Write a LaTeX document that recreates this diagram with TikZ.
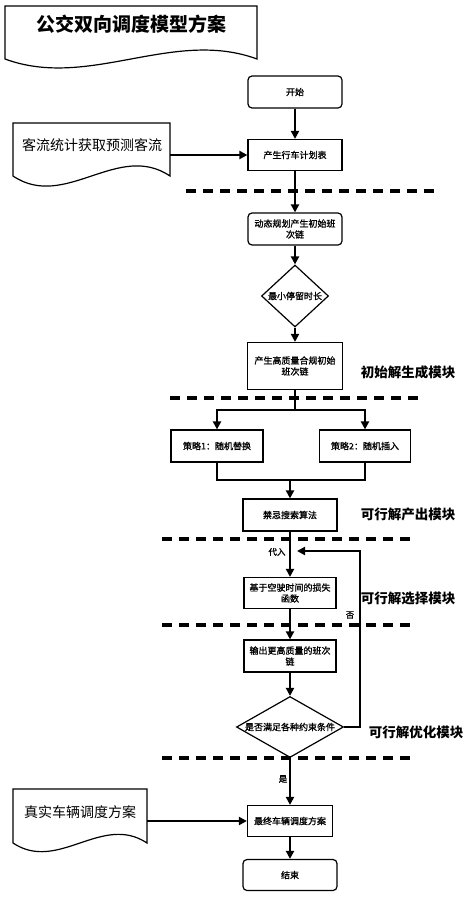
\documentclass[tikz,border=0pt]{standalone}
\usepackage{fontspec}
\newfontfamily\cjk{Noto Sans CJK SC}
\newfontfamily\cjkmed[FakeBold=1.2]{Noto Sans CJK SC}
\usetikzlibrary{arrows.meta,shapes.geometric}
\begin{document}
\begin{tikzpicture}[x=1pt,y=-1pt,
  box/.style={draw,line width=1.2pt,minimum width=94pt,minimum height=32pt,inner sep=1pt,
    font=\cjkmed\fontsize{9}{11}\selectfont,align=center},
  rbox/.style={box,rounded corners=4pt},
  dia/.style={draw,diamond,line width=1.2pt,inner sep=0pt},
  dtext/.style={font=\cjkmed\fontsize{9}{11}\selectfont,inner sep=0pt},
  conn/.style={line width=2pt,-{Triangle[length=8pt,width=8pt]}},
  seg/.style={line width=2pt},
  sep/.style={line width=3.5pt,dash pattern=on 10pt off 7pt},
  doc/.style={line width=1.2pt},
  modlbl/.style={font=\cjk\bfseries\fontsize{13.5}{16}\selectfont,inner sep=0pt},
  doclbl/.style={font=\cjk\fontsize{14}{16}\selectfont,inner sep=0pt},
  titlelbl/.style={font=\cjk\bfseries\fontsize{19}{22}\selectfont,inner sep=0pt},
  small/.style={font=\cjkmed\fontsize{8.5}{10}\selectfont,inner sep=0pt}]
\useasboundingbox (0,0) rectangle (474,897);

% document shapes
\draw[doc] (5,6) -- (257,6) -- (257,59) .. controls (173,28) and (89,90) .. (5,59) -- cycle;
\node[titlelbl] (title) at (131,24) {公交双向调度模型方案};
\draw[doc] (13,123) -- (170,123) -- (170,176) .. controls (118,141) and (65,211) .. (13,176) -- cycle;
\node[doclbl] (inflow) at (92,145) {客流统计获取预测客流};
\draw[doc] (13,789) -- (147,789) -- (147,843) .. controls (102,813) and (58,873) .. (13,843) -- cycle;
\node[doclbl] (real) at (80,812) {真实车辆调度方案};

% upper nodes
\node[rbox] (start) at (295,92) {开始};
\node[box,minimum height=31pt] (plan) at (295,155) {产生行车计划表};
\node[rbox] (dp) at (295,229) {动态规划产生初始班\\次链};
\node[dia,minimum width=67pt,minimum height=62pt] (d1) at (295,296) {};
\node[dtext] (d1t) at (d1) {最小停留时长};
\node[box,minimum width=95pt,minimum height=47pt] (q) at (295,366) {产生高质量合规初始\\班次链};
\node[box,minimum width=92pt] (s1) at (217,446) {策略1：随机替换};
\node[box,minimum width=91pt] (s2) at (365,446) {策略2：随机插入};

% lower nodes
\node[box] (tabu) at (290,515) {禁忌搜索算法};
\node[box,minimum width=92pt,minimum height=31pt] (loss) at (290,593) {基于空驶时间的损失\\函数};
\node[box,minimum width=92pt] (out) at (290,656) {输出更高质量的班次\\链};
\node[dia,minimum width=107pt,minimum height=61pt] (d2) at (290,727) {};
\node[dtext] (d2t) at (d2) {是否满足各种约束条件};
\node[box,minimum width=85pt,minimum height=31pt] (final) at (290,821) {最终车辆调度方案};
\node[rbox,minimum height=31pt] (end) at (290,875) {结束};

% module labels
\node[modlbl] (m1) at (408,372) {初始解生成模块};
\node[modlbl] (m2) at (408,514) {可行解产出模块};
\node[modlbl] (m3) at (408,598) {可行解选择模块};
\node[modlbl] (m4) at (416,732) {可行解优化模块};

% separators
\draw[sep] (186,191) -- (440,191);
\draw[sep] (170,398) -- (425,398);
\draw[sep] (162,539) -- (415,539);
\draw[sep] (162,625) -- (415,625);
\draw[sep] (162,758) -- (415,758);

% connectors
\coordinate (inflowR) at (170,155);
\coordinate (realR) at (147,821);
\draw[conn] (start) -- (plan);
\draw[conn] (inflowR) -- (plan.west);
\draw[conn] (plan) -- (dp);
\draw[conn] (dp) -- (d1.north);
\draw[conn] (d1.south) -- (q);
\coordinate (qsplit) at (295,410);
\draw[seg] (q.south) -- (qsplit);
\draw[conn] (qsplit) -| (s1.north);
\draw[conn] (qsplit) -| (s2.north);
\coordinate (merge) at (290,480);
\draw[seg] (s1.south) |- (merge) -| (s2.south);
\draw[conn] (merge) -- (tabu.north);
\draw[conn] (tabu) -- (loss);
\node[small] (dairu) at (277,552) {代入};
\draw[conn] (loss) -- (out);
\draw[conn] (out) -- (d2.north);
\coordinate (loopR) at (360,727);
\coordinate (loopT) at (360,551);
\coordinate (loopEnd) at (297,551);
\draw[conn] (d2.east) -- (loopR) -- (loopT) -- (loopEnd);
\node[small] (no) at (350,615) {否};
\draw[conn] (d2.south) -- (final.north);
\node[small] (yes) at (283,779) {是};
\draw[conn] (realR) -- (final.west);
\draw[conn] (final) -- (end);
\end{tikzpicture}
\end{document}
